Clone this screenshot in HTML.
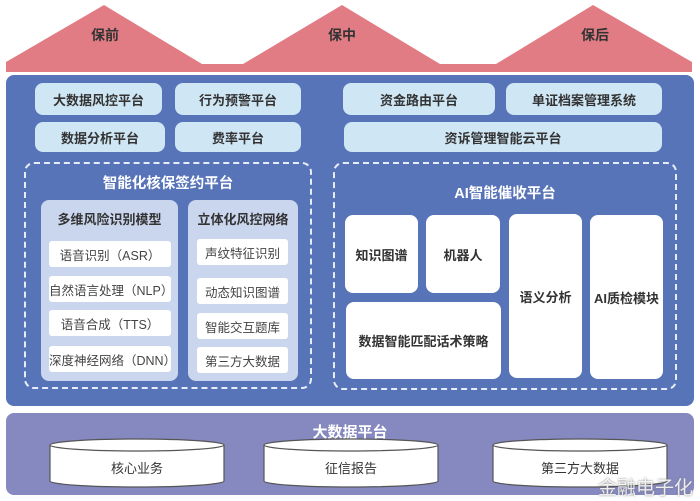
<!DOCTYPE html>
<html><head><meta charset="utf-8"><style>
body{margin:0;width:700px;height:501px;background:#fff;position:relative;overflow:hidden;font-family:"Liberation Sans","Noto Sans CJK SC",sans-serif;}
div{position:absolute;box-sizing:border-box;}
.c{display:flex;align-items:center;justify-content:center;text-align:center;color:#333;font-weight:bold;font-size:13px;}
.lb{background:#cfe6f4;border-radius:8px;}
.w{background:#fff;border-radius:3px;font-weight:normal;font-size:12.5px;color:#444;}
.wb{background:#fff;border-radius:8px;}
.dash{border:2px dashed #e6ecf8;border-radius:10px;}
.pan{background:#c9d6ee;border-radius:8px;}
.t{color:#fff;font-weight:bold;font-size:14.5px;text-align:center;}
</style></head><body>
<svg style="position:absolute;left:0;top:0" width="700" height="80">
<polygon points="6,62 104,5 202,64 243,64 342,5 440,64 496,64 593,5 692,62 692,72 6,72" fill="#e27c84"/>
</svg>
<div class="c" style="left:80px;top:25px;width:50px;height:20px;font-size:14px">保前</div>
<div class="c" style="left:317px;top:25px;width:50px;height:20px;font-size:14px">保中</div>
<div class="c" style="left:570px;top:25px;width:50px;height:20px;font-size:14px">保后</div>
<div style="left:6px;top:75px;width:688px;height:331px;background:#5874b8;border-radius:8px"></div>
<div class="c lb" style="left:35px;top:83px;width:127px;height:32px">大数据风控平台</div>
<div class="c lb" style="left:175px;top:83px;width:126px;height:32px">行为预警平台</div>
<div class="c lb" style="left:343px;top:83px;width:152px;height:32px">资金路由平台</div>
<div class="c lb" style="left:506px;top:83px;width:156px;height:32px">单证档案管理系统</div>
<div class="c lb" style="left:35px;top:122px;width:130px;height:30px">数据分析平台</div>
<div class="c lb" style="left:175px;top:122px;width:126px;height:30px">费率平台</div>
<div class="c lb" style="left:344px;top:122px;width:318px;height:30px">资诉管理智能云平台</div>
<div class="dash" style="left:24px;top:162px;width:288px;height:227px"></div>
<div class="t" style="left:24px;top:172px;width:288px">智能化核保签约平台</div>
<div class="pan" style="left:41px;top:200px;width:137px;height:181px"></div>
<div class="pan" style="left:188px;top:200px;width:110px;height:181px"></div>
<div class="c" style="left:41px;top:208px;width:137px;height:20px">多维风险识别模型</div>
<div class="c" style="left:188px;top:208px;width:110px;height:20px">立体化风控网络</div>
<div class="c w" style="left:49px;top:241px;width:122px;height:26px">语音识别（ASR）</div>
<div class="c w" style="left:49px;top:276px;width:122px;height:26px">自然语言处理（NLP）</div>
<div class="c w" style="left:49px;top:310px;width:122px;height:26px">语音合成（TTS）</div>
<div class="c w" style="left:49px;top:346px;width:122px;height:26px">深度神经网络（DNN）</div>
<div class="c w" style="left:197px;top:239px;width:91px;height:26px">声纹特征识别</div>
<div class="c w" style="left:197px;top:278px;width:91px;height:26px">动态知识图谱</div>
<div class="c w" style="left:197px;top:313px;width:91px;height:26px">智能交互题库</div>
<div class="c w" style="left:197px;top:347px;width:91px;height:26px">第三方大数据</div>
<div class="dash" style="left:333px;top:162px;width:344px;height:228px"></div>
<div class="t" style="left:333px;top:182px;width:344px">AI智能催收平台</div>
<div class="c wb" style="left:345px;top:215px;width:73px;height:78px">知识图谱</div>
<div class="c wb" style="left:426px;top:215px;width:74px;height:78px">机器人</div>
<div class="c wb" style="left:346px;top:302px;width:155px;height:77px">数据智能匹配话术策略</div>
<div class="c wb" style="left:509px;top:214px;width:73px;height:164px">语义分析</div>
<div class="c wb" style="left:590px;top:215px;width:73px;height:164px">AI质检模块</div>
<div style="left:6px;top:413px;width:688px;height:82px;background:#8589c0;border-radius:8px"></div>
<div class="t" style="left:6px;top:421px;width:688px;font-size:15px">大数据平台</div>
<svg style="position:absolute;left:0;top:436px" width="700" height="56">
<g fill="#fff" stroke="#555" stroke-width="1.2">
<path d="M50,9 A87,6 0 0 1 224,9 L224,45 A87,6 0 0 1 50,45 Z"/><path d="M50,9 A87,6 0 0 0 224,9" fill="none"/>
<path d="M264,9 A87,6 0 0 1 438,9 L438,45 A87,6 0 0 1 264,45 Z"/><path d="M264,9 A87,6 0 0 0 438,9" fill="none"/>
<path d="M493,9 A87,6 0 0 1 667,9 L667,45 A87,6 0 0 1 493,45 Z"/><path d="M493,9 A87,6 0 0 0 667,9" fill="none"/>
</g></svg>
<div class="c" style="left:50px;top:456px;width:174px;height:22px;font-weight:normal">核心业务</div>
<div class="c" style="left:264px;top:456px;width:174px;height:22px;font-weight:normal">征信报告</div>
<div class="c" style="left:493px;top:456px;width:174px;height:22px;font-weight:normal">第三方大数据</div>
<div style="left:598px;top:473px;font-size:19px;color:rgba(255,255,255,0.85);text-shadow:0 0 2px #777;white-space:nowrap">金融电子化</div>
</body></html>
